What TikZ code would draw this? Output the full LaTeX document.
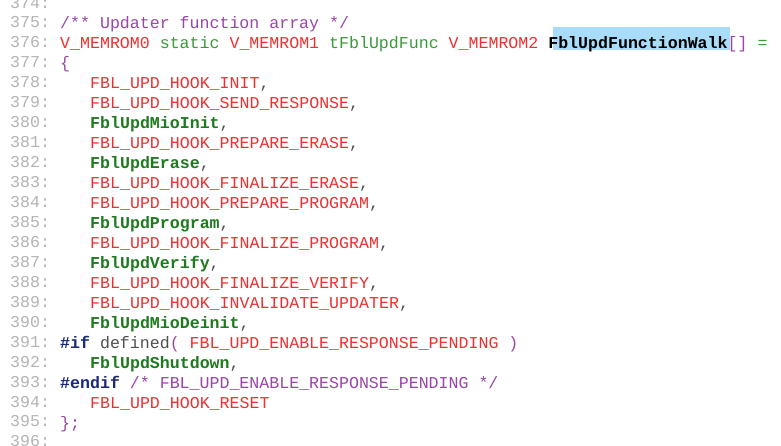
\documentclass[tikz,border=0pt]{standalone}
\usepackage{fontspec}
\setmonofont{Liberation Mono}
\definecolor{lnum}{HTML}{B4B4B4}
\definecolor{cmt}{HTML}{9A45A8}
\definecolor{mac}{HTML}{F03030}
\definecolor{kw}{HTML}{3A9A3A}
\definecolor{fn}{HTML}{1E7A1E}
\definecolor{pp}{HTML}{1A2A7A}
\definecolor{hl}{HTML}{A9DCF8}
\definecolor{txt}{HTML}{505050}
\newcommand{\cMac}[1]{\textcolor{mac}{#1}}
\newcommand{\cFn}[1]{\textcolor{fn}{\bfseries #1}}
\newcommand{\cCmt}[1]{\textcolor{cmt}{#1}}
\newcommand{\cPp}[1]{\textcolor{pp}{\bfseries #1}}
\begin{document}
\begin{tikzpicture}[x=1pt,y=-1pt,
  code/.style={anchor=base west,inner sep=0pt,font=\ttfamily\fontsize{16.6}{20}\selectfont,text=txt},
  num/.style={code,text=lnum}]
\useasboundingbox (0,0) rectangle (781,445);
\clip (0,0) rectangle (781,445);
\fill[white] (0,0) rectangle (781,445);
\fill[hl] (553,27) rectangle (730,50);
\foreach \n [count=\k from 0] in {374,...,396}{
  \node[num] (n\n) at (10,{8+19.95*\k}) {\n:};
}
\node[code] (l375) at (60,28) {\cCmt{/** Updater function array */}};
\node[code] (l376) at (60,48) {\cMac{V\_MEMROM0} \textcolor{kw}{static} \cMac{V\_MEMROM1} \textcolor{kw}{tFblUpdFunc} \cMac{V\_MEMROM2} \textcolor{black}{\bfseries FblUpdFunctionWalk}\cCmt{[]} \textcolor{kw}{=}};
\node[code] (l377) at (60,68) {\cCmt{\{}};
\node[code] (l378) at (90,88) {\cMac{FBL\_UPD\_HOOK\_INIT},};
\node[code] (l379) at (90,108) {\cMac{FBL\_UPD\_HOOK\_SEND\_RESPONSE},};
\node[code] (l380) at (90,128) {\cFn{FblUpdMioInit},};
\node[code] (l381) at (90,148) {\cMac{FBL\_UPD\_HOOK\_PREPARE\_ERASE},};
\node[code] (l382) at (90,168) {\cFn{FblUpdErase},};
\node[code] (l383) at (90,188) {\cMac{FBL\_UPD\_HOOK\_FINALIZE\_ERASE},};
\node[code] (l384) at (90,208) {\cMac{FBL\_UPD\_HOOK\_PREPARE\_PROGRAM},};
\node[code] (l385) at (90,228) {\cFn{FblUpdProgram},};
\node[code] (l386) at (90,248) {\cMac{FBL\_UPD\_HOOK\_FINALIZE\_PROGRAM},};
\node[code] (l387) at (90,268) {\cFn{FblUpdVerify},};
\node[code] (l388) at (90,288) {\cMac{FBL\_UPD\_HOOK\_FINALIZE\_VERIFY},};
\node[code] (l389) at (90,308) {\cMac{FBL\_UPD\_HOOK\_INVALIDATE\_UPDATER},};
\node[code] (l390) at (90,328) {\cFn{FblUpdMioDeinit},};
\node[code] (l391) at (60,348) {\cPp{\#if} defined\cCmt{(} \cMac{FBL\_UPD\_ENABLE\_RESPONSE\_PENDING} \cCmt{)}};
\node[code] (l392) at (90,368) {\cFn{FblUpdShutdown},};
\node[code] (l393) at (60,388) {\cPp{\#endif} \cCmt{/* FBL\_UPD\_ENABLE\_RESPONSE\_PENDING */}};
\node[code] (l394) at (90,408) {\cMac{FBL\_UPD\_HOOK\_RESET}};
\node[code] (l395) at (60,428) {\cCmt{\};}};
\end{tikzpicture}
\end{document}
